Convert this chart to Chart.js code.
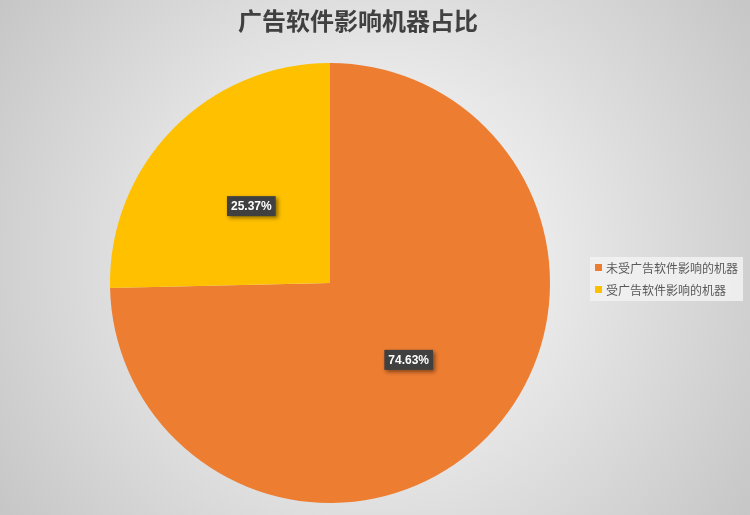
<!DOCTYPE html>
<html>
<head>
<meta charset="utf-8">
<script src="https://cdn.jsdelivr.net/npm/chart.js@4"></script>
<style>
  html, body { margin: 0; padding: 0; }
  #wrap { width: 750px; height: 515px; position: relative; }
</style>
</head>
<body>
<div id="wrap"><canvas id="pie"></canvas></div>
<script>
const titleText = "广告软件影响机器占比";
const categories = ["未受广告软件影响的机器", "受广告软件影响的机器"];
const shares = [74.63, 25.37];
const sliceColors = ["#ED7D31", "#FFC000"];

const cjkFont = "'Noto Sans CJK SC', 'Noto Sans', sans-serif";

// radial grey background behind everything
const bgPlugin = {
  id: "bg",
  beforeDraw(chart) {
    const { ctx, width, height } = chart;
    const g = ctx.createRadialGradient(width / 2, height / 2, 0, width / 2, height / 2, Math.hypot(width, height) / 2);
    g.addColorStop(0, "#ffffff");
    g.addColorStop(1, "#c6c6c6");
    ctx.save();
    ctx.fillStyle = g;
    ctx.fillRect(0, 0, width, height);
    ctx.restore();
  }
};

// title is centred on the whole canvas, not on the pie
const titlePlugin = {
  id: "topTitle",
  afterDraw(chart) {
    const { ctx } = chart;
    ctx.save();
    ctx.font = "bold 24px " + cjkFont;
    ctx.fillStyle = "#404040";
    ctx.textAlign = "center";
    ctx.textBaseline = "middle";
    ctx.fillText(titleText, 358, 21);
    ctx.restore();
  }
};

// percent boxes in the middle of each slice
const labelPlugin = {
  id: "pctLabels",
  afterDatasetsDraw(chart) {
    const { ctx } = chart;
    const meta = chart.getDatasetMeta(0);
    ctx.save();
    ctx.font = "bold 12px 'Liberation Sans', Arial, sans-serif";
    ctx.textAlign = "center";
    ctx.textBaseline = "middle";
    meta.data.forEach((arc, i) => {
      const p = arc.getCenterPoint();
      const txt = shares[i].toFixed(2) + "%";
      const w = ctx.measureText(txt).width + 8;
      const h = 20;
      ctx.shadowColor = "rgba(0,0,0,0.45)";
      ctx.shadowBlur = 4;
      ctx.shadowOffsetX = 2;
      ctx.shadowOffsetY = 2;
      ctx.fillStyle = "#404040";
      ctx.fillRect(p.x - w / 2, p.y - h / 2, w, h);
      ctx.shadowColor = "transparent";
      ctx.fillStyle = "#ffffff";
      ctx.fillText(txt, p.x, p.y + 1);
    });
    ctx.restore();
  }
};

// legend on the right with a light panel
const legendPlugin = {
  id: "sideLegend",
  afterDraw(chart) {
    const { ctx } = chart;
    const x0 = 590, y0 = 257, w = 153, h = 44;
    ctx.save();
    ctx.fillStyle = "rgba(242,242,242,0.85)";
    ctx.fillRect(x0, y0, w, h);
    ctx.font = "12px " + cjkFont;
    ctx.textBaseline = "middle";
    categories.forEach((c, i) => {
      const y = y0 + 11 + i * 22;
      ctx.fillStyle = sliceColors[i];
      ctx.fillRect(x0 + 5, y - 4, 7, 7);
      ctx.fillStyle = "#595959";
      ctx.fillText(c, x0 + 16, y);
    });
    ctx.restore();
  }
};

new Chart(document.getElementById("pie"), {
  type: "pie",
  data: {
    labels: categories,
    datasets: [{
      data: shares,
      backgroundColor: sliceColors,
      borderWidth: 0
    }]
  },
  options: {
    responsive: true,
    maintainAspectRatio: false,
    animation: false,
    layout: { padding: { left: 110, right: 200, top: 63, bottom: 12 } },
    plugins: {
      legend: { display: false },
      tooltip: { enabled: false },
      title: { display: false }
    }
  },
  plugins: [bgPlugin, titlePlugin, labelPlugin, legendPlugin]
});
</script>
</body>
</html>
